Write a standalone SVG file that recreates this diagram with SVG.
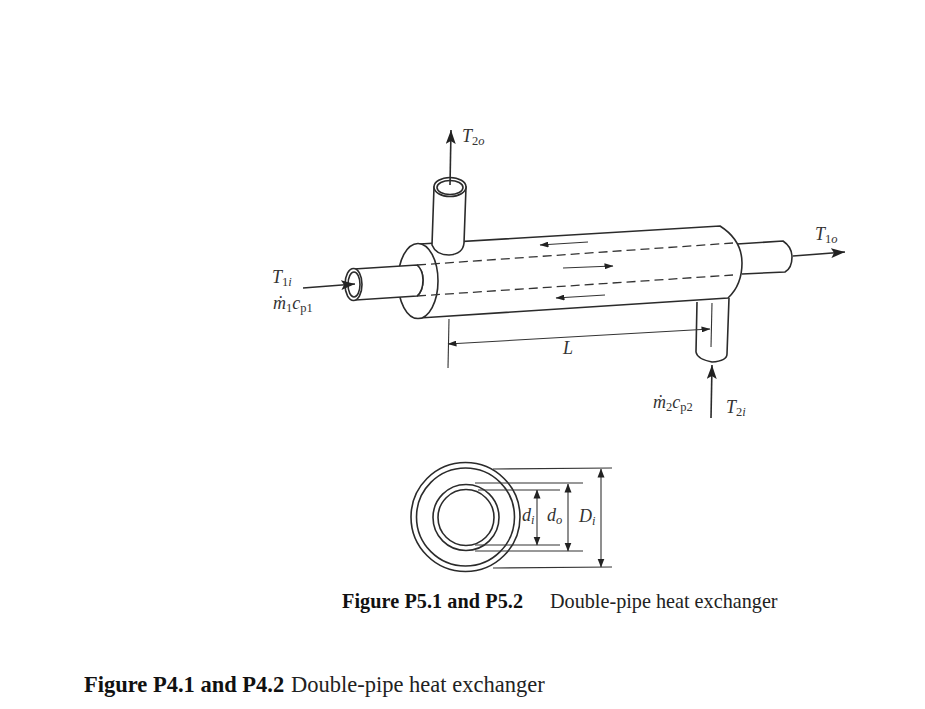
<svg xmlns="http://www.w3.org/2000/svg" width="925" height="709" viewBox="0 0 925 709">
<style>
.l{fill:none;stroke:#2b2b2b;stroke-width:1.6}
.w{fill:#fff;stroke:#2b2b2b;stroke-width:1.6}
.t{fill:none;stroke:#333;stroke-width:1.1}
.d{fill:none;stroke:#333;stroke-width:1.3;stroke-dasharray:9 5}
.a{fill:#222;stroke:none}
text{font-family:"Liberation Serif","Times New Roman",serif;fill:#333}
.i{font-style:italic;font-size:18px}
.s{font-size:12.5px}
.c{font-size:20.2px;fill:#222}
.e{font-size:22.5px;fill:#222}
.b{font-weight:bold;fill:#111}
</style>
<defs>
<marker id="big" markerUnits="userSpaceOnUse" markerWidth="15" markerHeight="10" refX="14" refY="5" orient="auto"><path class="a" d="M0 0L14 5L0 10L3 5Z"/></marker>
<marker id="sm" markerUnits="userSpaceOnUse" markerWidth="9" markerHeight="6" refX="8.5" refY="3" orient="auto-start-reverse"><path class="a" d="M0 0L9 3L0 6Z"/></marker>
<marker id="dim" markerUnits="userSpaceOnUse" markerWidth="9" markerHeight="8" refX="8.5" refY="4" orient="auto-start-reverse"><path class="a" d="M0 0.5L9 4L0 7.5Z"/></marker>
</defs>
<rect width="925" height="709" fill="#fff"/>
<g id="bottom-nozzle">
<path class="w" d="M697 302L696 352Q697 359 712 362Q727 361 727 354L729 298"/>
<path class="t" d="M712 303L711 347"/>
</g>
<g id="right-pipe">
<path class="l" d="M737 244L783 241Q792 247 792 257Q792 268 785 272L742 274"/>
</g>
<g id="shell">
<path class="w" d="M420 244L720 226Q742 240 742 263Q742 285 728 298L420 318Z"/>
<ellipse class="w" cx="418" cy="281" rx="20" ry="37.500"/>
<path class="l" d="M417 265Q423 270 423 280Q423 291 417 296"/>
<path class="d" d="M417 265L733 243M417 296L733 275"/>
</g>
<g id="top-nozzle">
<path class="w" d="M434 187L432 245Q436 255 449 255Q463 254 464 243L466 187Z"/>
<ellipse class="w" cx="450" cy="187" rx="16" ry="9.500"/>
<ellipse class="w" cx="450" cy="187.500" rx="13" ry="7"/>
</g>
<g id="inner-pipe">
<path class="w" d="M354 269L417 265Q423 270 423 280Q423 291 417 296L356 300Z"/>
<ellipse class="w" cx="353.500" cy="284.500" rx="8.500" ry="16"/>
<ellipse class="w" cx="354" cy="284.500" rx="6" ry="12.500"/>
</g>
<g id="connectors">
<path class="l" d="M450 185L451 130" marker-end="url(#big)"/>
<path class="l" d="M303 288L355 284" marker-end="url(#big)"/>
<path class="l" d="M793 256L845 252" marker-end="url(#big)"/>
<path class="l" d="M711 418L712 365" marker-end="url(#big)"/>
<path class="t" d="M588 242L540 245" marker-end="url(#sm)"/>
<path class="t" d="M563 268L613 266" marker-end="url(#sm)"/>
<path class="t" d="M605 295L556 298" marker-end="url(#sm)"/>
<path class="t" d="M449 319L448 368"/>
<path class="t" d="M448 344L710 329" marker-start="url(#sm)" marker-end="url(#sm)"/>
</g>
<g id="section">
<ellipse class="l" cx="465.500" cy="517" rx="54.500" ry="54.500"/>
<ellipse class="l" cx="465.500" cy="517" rx="49" ry="49"/>
<circle class="l" cx="466" cy="517.500" r="33"/>
<circle class="l" cx="466" cy="517.500" r="28"/>
<path class="t" d="M493 469L612 468M493 568L612 567M475 483L583 483M475 551L583 551M478 490L560 490M475 545L560 545"/>
<path class="t" d="M537 490L537 545" marker-start="url(#dim)" marker-end="url(#dim)"/>
<path class="t" d="M568 484L568 551" marker-start="url(#dim)" marker-end="url(#dim)"/>
<path class="t" d="M601 469L601 567" marker-start="url(#dim)" marker-end="url(#dim)"/>
</g>
<g id="labels">
<text x="462" y="142"><tspan class="i">T</tspan><tspan class="s" dy="3">2</tspan><tspan class="s" font-style="italic">o</tspan></text>
<text x="272" y="283"><tspan class="i">T</tspan><tspan class="s" dy="3">1</tspan><tspan class="s" font-style="italic">i</tspan></text>
<text x="273" y="309"><tspan class="i">ṁ</tspan><tspan class="s" dy="3">1</tspan><tspan class="i" dy="-3">c</tspan><tspan class="s" dy="3">p1</tspan></text>
<text x="815" y="240"><tspan class="i">T</tspan><tspan class="s" dy="3">1</tspan><tspan class="s" font-style="italic">o</tspan></text>
<text class="i" x="563" y="354">L</text>
<text x="653" y="408"><tspan class="i">ṁ</tspan><tspan class="s" dy="3">2</tspan><tspan class="i" dy="-3">c</tspan><tspan class="s" dy="3">p2</tspan></text>
<text x="726" y="413"><tspan class="i">T</tspan><tspan class="s" dy="3">2</tspan><tspan class="s" font-style="italic">i</tspan></text>
<text x="522" y="521"><tspan class="i">d</tspan><tspan class="s" dy="3" font-style="italic">i</tspan></text>
<text x="547" y="521"><tspan class="i">d</tspan><tspan class="s" dy="3" font-style="italic">o</tspan></text>
<text x="579" y="522"><tspan class="i">D</tspan><tspan class="s" dy="3" font-style="italic">i</tspan></text>
<text class="c b" x="342" y="608" textLength="181">Figure P5.1 and P5.2</text>
<text class="c" x="550" y="608">Double-pipe heat exchanger</text>
<text class="e b" x="84" y="692">Figure P4.1 and P4.2</text>
<text class="e" x="291" y="692">Double-pipe heat exchanger</text>
</g>
</svg>
